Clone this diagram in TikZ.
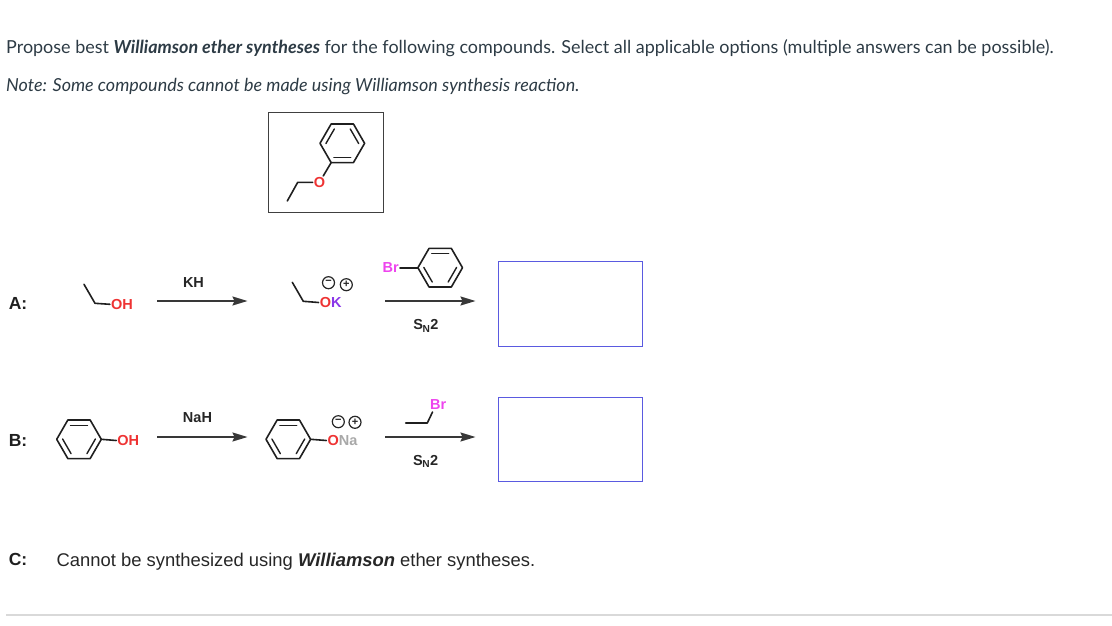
\documentclass[tikz,border=0pt]{standalone}
\usepackage{fontspec}
\setmainfont{Liberation Sans}
\newfontfamily\latofont{Lato}
\usetikzlibrary{arrows.meta,calc}
\definecolor{inkc}{HTML}{2D3B45}
\definecolor{oxy}{HTML}{EE3333}
\definecolor{pot}{HTML}{8A35E8}
\definecolor{brom}{HTML}{EE44EE}
\definecolor{sod}{HTML}{A8A8A8}
\definecolor{boxb}{HTML}{5A5AE0}
\tikzset{
  x=1pt,y=-1pt,
  bond/.style={draw=black!88,line width=1.6pt,line cap=round,line join=round},
  rxn/.style={draw=black!78,line width=1.6pt,-{Stealth[length=15pt,width=9pt,inset=2pt]}},
  chem/.style={inner sep=0pt,outer sep=1.2pt,font=\bfseries\fontsize{14.5}{16}\selectfont,text=black!85},
  lab/.style={inner sep=0pt,font=\bfseries\fontsize{17.5}{19}\selectfont,text=black!88},
  head/.style={anchor=base west,inner sep=0pt,text=inkc,font=\latofont\fontsize{17.95}{20}\selectfont},
  answer/.style={draw=boxb,line width=1.2pt,minimum width=144pt,inner sep=0pt},
  charge/.style={circle,draw=black!85,line width=1.2pt,minimum size=12pt,inner sep=0pt,font=\bfseries\fontsize{11}{11}\selectfont,text=black!85},
}
% ring: name, cx, cy, angle offset of the first double bond
\newcommand{\chemring}[4]{%
  \coordinate (#1) at (#2,#3);
  \foreach \a in {0,60,...,300}{\coordinate (#1v\a) at ($(#1)+(\a:22.3 and -22.3)$);}
  \draw[bond] (#1v0)--(#1v60)--(#1v120)--(#1v180)--(#1v240)--(#1v300)--cycle;
  \foreach \a in {#4,\the\numexpr#4+120\relax,\the\numexpr#4+240\relax}{
    \draw[draw=black!88,line width=1.4pt,line cap=round] ($(#1)+(\a-1:16.4 and -16.4)$)--($(#1)+(\a+61:16.4 and -16.4)$);}
}
\begin{document}
\begin{tikzpicture}
\useasboundingbox (0,0) rectangle (1112,626);
% heading
\node[head] (h1) at (6,53.5) {Propose best \textbf{\textit{Williamson ether syntheses}} for the following compounds. Select all applicable options (multiple answers can be possible).};
\node[head] (h2) at (6,91.5) {\textit{Note: Some compounds cannot be made using Williamson synthesis reaction.}};
% target
\node[draw=black!75,line width=1pt,minimum width=115pt,minimum height=100pt,inner sep=0pt] (frame) at (326,162.5) {};
\chemring{tr}{342.3}{143.3}{0}
\node[chem,text=oxy] (tO) at (319.5,182.3) {O};
\coordinate (tc1) at (297.7,182.3);
\coordinate (tc2) at (287.3,201);
\draw[bond] (tc2)--(tc1)--(tO.west);
\draw[bond] (trv240)--(tO);
% A
\node[lab] (la) at (18,303.5) {A:};
\coordinate (a1) at (84,284.3); \coordinate (a2) at (95,303.3);
\node[chem,text=oxy] (aOH) at (122,304.3) {OH};
\draw[bond] (a1)--(a2)--(aOH.west);
\coordinate (ar1s) at (157.3,301); \coordinate (ar1e) at (247.5,301);
\draw[rxn] (ar1s)--(ar1e);
\node[chem] (kh) at (193.5,282.5) {KH};
\coordinate (a3) at (292.3,282.3); \coordinate (a4) at (303.3,301.3);
\node[chem] (aOK) at (330.7,302.5) {\textcolor{oxy}{O}\textcolor{pot}{K}};
\draw[bond] (a3)--(a4)--(aOK.west);
\node[charge] (am) at (328.5,282.7) {−};
\node[charge] (ap) at (346.3,284.7) {+};
\node[chem,text=brom] (aBr) at (390.7,267.7) {Br};
\chemring{ar}{440.2}{267.7}{60}
\draw[bond] (aBr.east)--(arv180);
\coordinate (ar2s) at (385,301); \coordinate (ar2e) at (475.5,301);
\draw[rxn] (ar2s)--(ar2e);
\node[chem] (sa) at (426,326) {S\textsubscript{\kern-0.5pt N}2};
\node[answer,minimum height=85pt] (boxa) at (570.5,304) {};
% B
\node[lab] (lb) at (18,440) {B:};
\chemring{br}{79}{439.3}{60}
\node[chem,text=oxy] (bOH) at (128.3,440.5) {OH};
\draw[bond] (brv0)--(bOH.west);
\coordinate (br1s) at (157.3,437); \coordinate (br1e) at (247.5,437);
\draw[rxn] (br1s)--(br1e);
\node[chem] (nah) at (197.5,417.7) {NaH};
\chemring{bs}{288.3}{439.3}{60}
\node[chem] (bONa) at (342.5,440.5) {\textcolor{oxy}{O}\textcolor{sod}{Na}};
\draw[bond] (bsv0)--(bONa.west);
\node[charge] (bm) at (338.3,421.7) {−};
\node[charge] (bp) at (355,422.3) {+};
\node[chem,text=brom] (bBr) at (438.3,404.3) {Br};
\coordinate (b1) at (405.7,423); \coordinate (b2) at (427.3,423);
\draw[bond] (b1)--(b2)--($(bBr.south west)+(3.5,1.5)$);
\coordinate (br2s) at (385,437); \coordinate (br2e) at (475.5,437);
\draw[rxn] (br2s)--(br2e);
\node[chem] (sb) at (425.7,461.7) {S\textsubscript{\kern-0.5pt N}2};
\node[answer,minimum height=84pt] (boxb) at (570.5,439.5) {};
% C
\node[lab] (lc) at (18,559.5) {C:};
\node[anchor=base west,inner sep=0pt,text=black!85,font=\fontsize{18.4}{20}\selectfont] (ct) at (56.5,566) {Cannot be synthesized using \textbf{\textit{Williamson}} ether syntheses.};
% rule
\coordinate (r1) at (6,615); \coordinate (r2) at (1112,615);
\draw[draw=black!15,line width=1.2pt] (r1)--(r2);
\end{tikzpicture}
\end{document}
